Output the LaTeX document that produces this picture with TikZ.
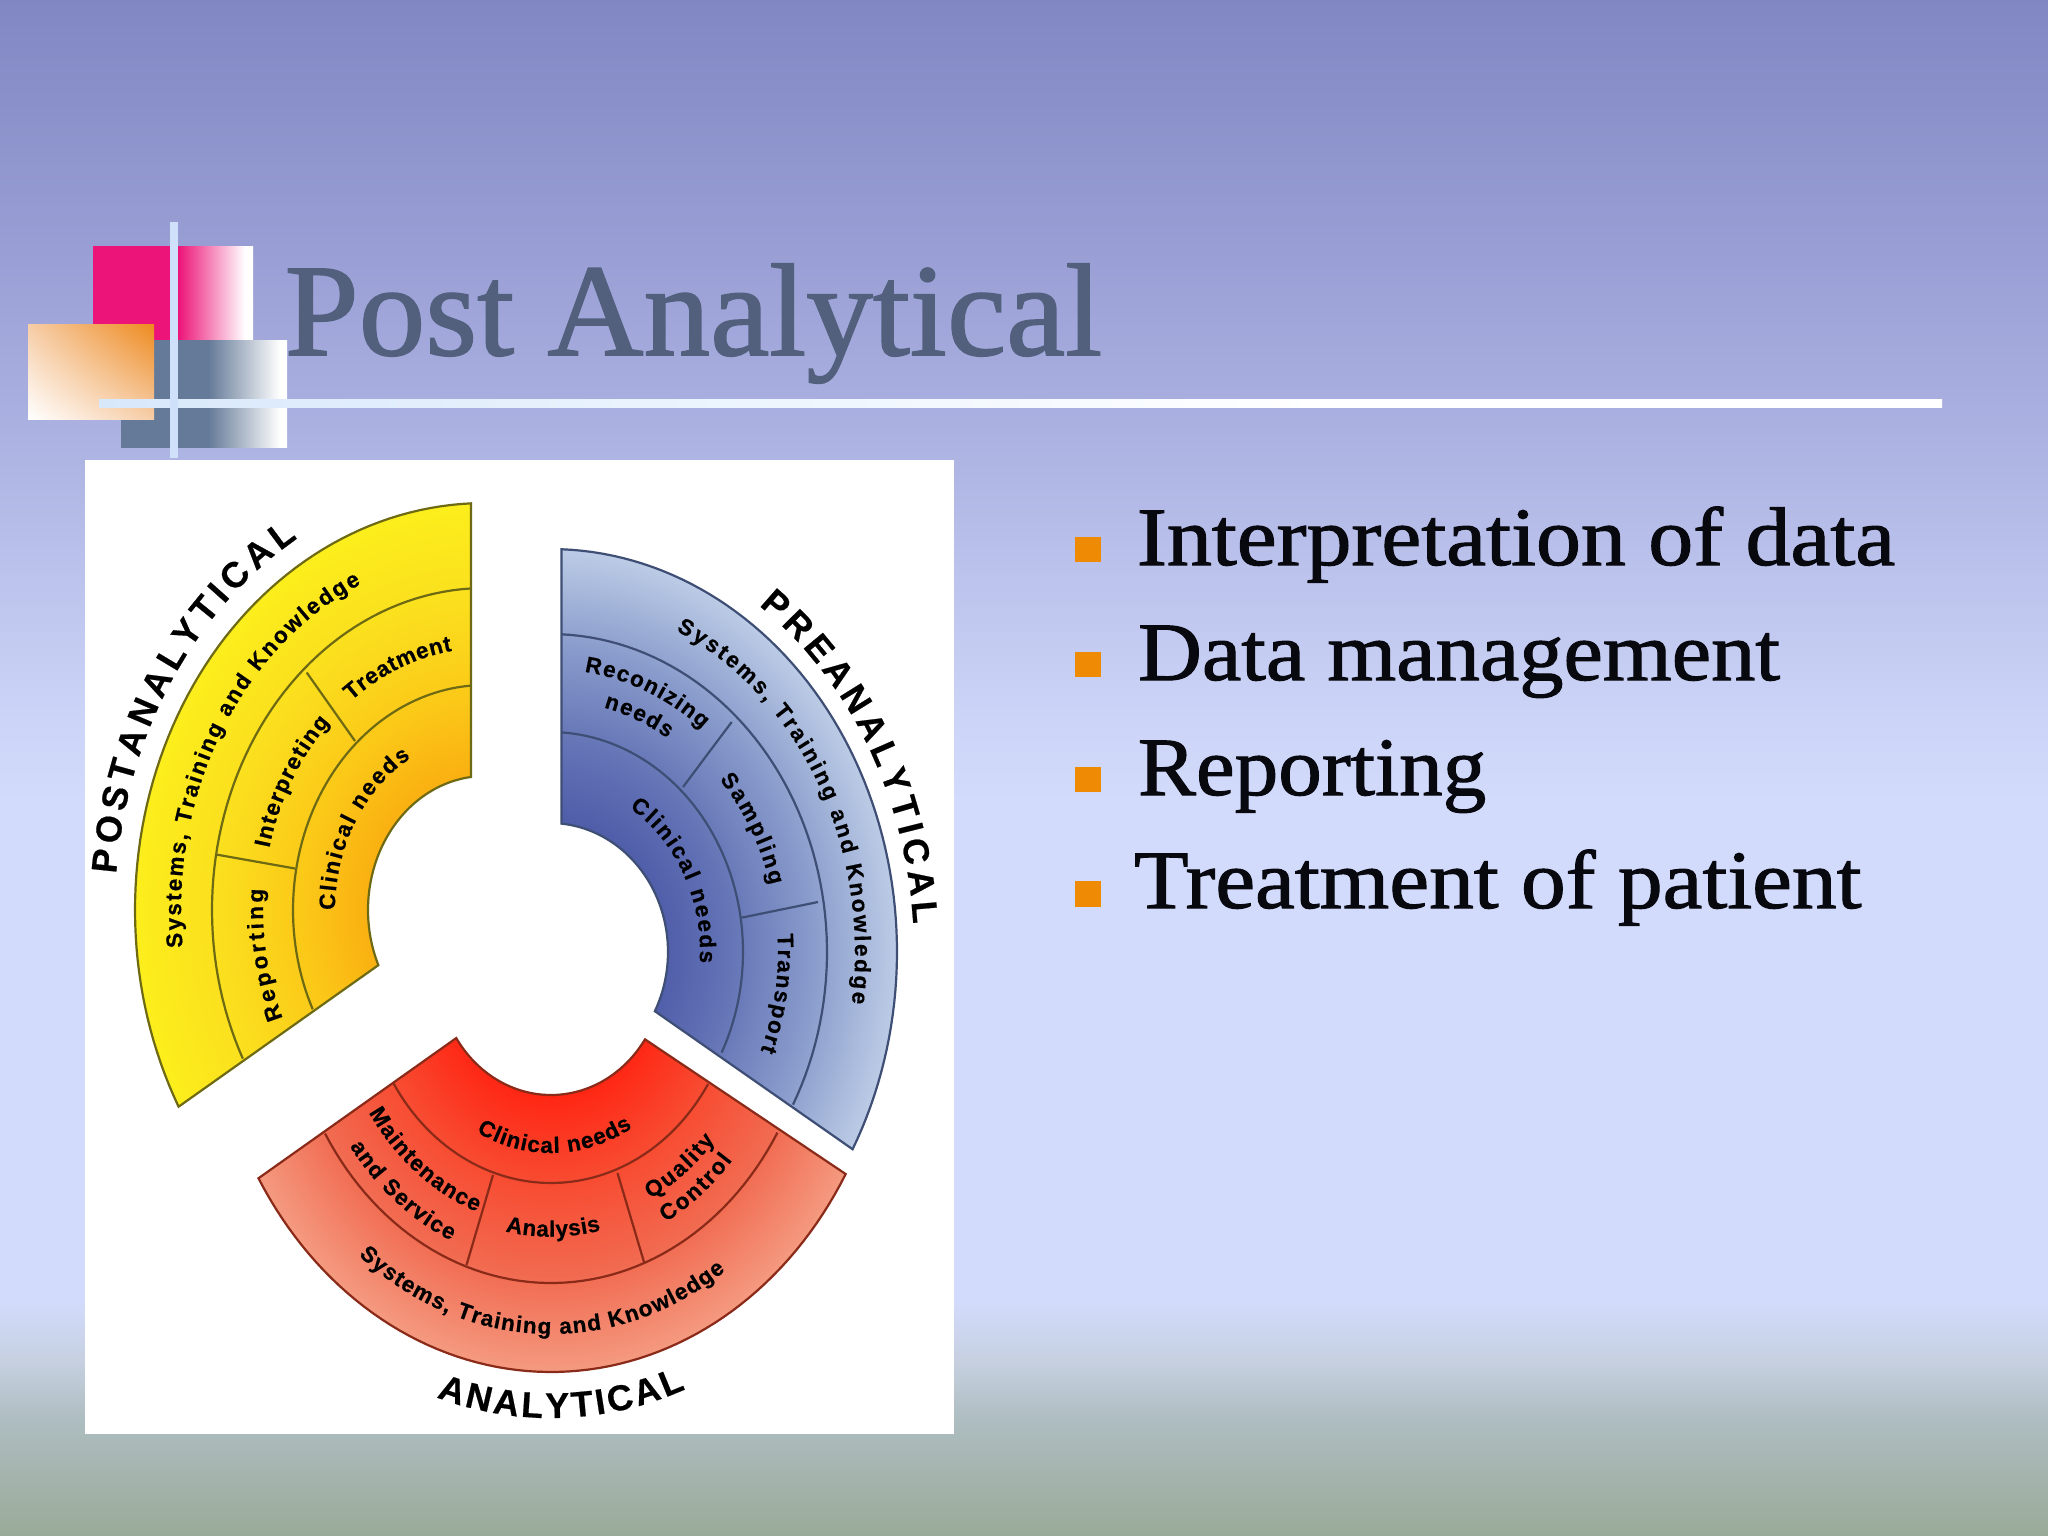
\documentclass[tikz,border=0pt]{standalone}
\usepackage{graphicx}
\usepackage{fontspec}
\setmainfont{Liberation Serif}[FakeBold=1.2]
\setsansfont{Liberation Sans}[BoldFeatures={FakeBold=0.5}]
\usetikzlibrary{decorations.text,shadings}

\definecolor{bgA}{HTML}{8087C3}
\definecolor{bgB}{HTML}{979DD3}
\definecolor{bgC}{HTML}{AAB0E0}
\definecolor{bgD}{HTML}{CAD2F6}
\definecolor{bgE}{HTML}{D3DBFC}
\definecolor{bgF}{HTML}{C6D0E0}
\definecolor{bgG}{HTML}{AEBDC0}
\definecolor{bgH}{HTML}{9AAA98}
\pgfdeclareverticalshading{bgv}{100bp}{color(0bp)=(bgH); color(25bp)=(bgH); color(28.78bp)=(bgG); color(30.7bp)=(bgF); color(32.68bp)=(bgE); color(48.96bp)=(bgE); color(52.2bp)=(bgD); color(61.3bp)=(bgC); color(67.5bp)=(bgB); color(75bp)=(bgA); color(100bp)=(bgA)}

\definecolor{yA}{HTML}{FAAC10}\definecolor{yB}{HTML}{FBC818}\definecolor{yC}{HTML}{FBDF1E}\definecolor{yD}{HTML}{FCEE1C}
\definecolor{bA}{HTML}{4D5AA8}\definecolor{bB}{HTML}{6474B6}\definecolor{bC}{HTML}{8A9CCC}\definecolor{bD}{HTML}{BCCCE6}
\definecolor{rA}{HTML}{FF2412}\definecolor{rB}{HTML}{F84A30}\definecolor{rC}{HTML}{F16A50}\definecolor{rD}{HTML}{F49A80}
\pgfdeclareradialshading{yelrad}{\pgfpointorigin}{color(0bp)=(yA); color(7.5bp)=(yA); color(13bp)=(yB); color(19bp)=(yC); color(25bp)=(yD); color(50bp)=(yD)}
\pgfdeclareradialshading{blurad}{\pgfpointorigin}{color(0bp)=(bA); color(7.5bp)=(bA); color(13bp)=(bB); color(19bp)=(bC); color(25bp)=(bD); color(50bp)=(bD)}
\pgfdeclareradialshading{redrad}{\pgfpointorigin}{color(0bp)=(rA); color(7.5bp)=(rA); color(13bp)=(rB); color(19bp)=(rC); color(25bp)=(rD); color(50bp)=(rD)}

\definecolor{pinkc}{HTML}{EC1478}
\definecolor{slatec}{HTML}{647A98}
\definecolor{orangec}{HTML}{EE8A1E}
\definecolor{orangel}{HTML}{F6CDA8}
\definecolor{barc}{HTML}{CFE0FA}
\definecolor{linec}{HTML}{D8E8FB}
\definecolor{titlec}{HTML}{52607E}
\definecolor{bodyc}{HTML}{08080F}
\definecolor{bulletc}{HTML}{EE8A04}
\definecolor{yline}{HTML}{6E6A14}
\definecolor{bline}{HTML}{3E4E74}
\definecolor{rline}{HTML}{8A2A18}
\pgfdeclarehorizontalshading{pinkh}{100bp}{color(0bp)=(pinkc); color(51.6bp)=(pinkc); color(72.5bp)=(white); color(100bp)=(white)}
\pgfdeclarehorizontalshading{slateh}{100bp}{color(0bp)=(slatec); color(51.2bp)=(slatec); color(72.9bp)=(white); color(100bp)=(white)}
\pgfdeclarehorizontalshading{lineh}{100bp}{color(0bp)=(linec); color(25bp)=(linec); color(58bp)=(white); color(100bp)=(white)}

\newcommand\lblfont{\fontsize{6.4}{7}\selectfont\sffamily\bfseries}
\newcommand\bigfont{\fontsize{10.2}{11}\selectfont\sffamily\bfseries}
\newcommand\fitw[2]{\resizebox{#1}{\height}{#2}}

% #1 command, #2-#3 outer angles, #4-#5 outer radii, #6-#7 inner angles, #8-#9 inner radii
\newcommand\sectorops[9]{#1 plot[domain=#2:#3,samples=70,variable=\t] ({\cx+#4*cos(\t)},{\cy+#5*sin(\t)}) -- plot[domain=#6:#7,samples=50,variable=\t] ({\cx+#8*cos(\t)},{\cy+#9*sin(\t)}) -- cycle;}
% one ring arc
\newcommand\ringarc[5]{\draw[#1] plot[domain=#2:#3,samples=60,variable=\t] ({\cx+#4*cos(\t)},{\cy+#5*sin(\t)});}
% label along an arc: font, start, end, rx, ry, text
\newcommand\arclabel[6]{\path[decorate,decoration={text along path,text align={fit to path},text={|#1|#6}}] plot[domain=#2:#3,samples=40,variable=\t] ({\cx+#4*cos(\t)},{\cy+#5*sin(\t)});}

\tikzset{
  ybord/.style={draw=yline,line width=0.022cm},
  bbord/.style={draw=bline,line width=0.022cm},
  rbord/.style={draw=rline,line width=0.022cm},
  bodytext/.style={anchor=base west,inner sep=0pt,outer sep=0pt,text=bodyc,font=\fontsize{23.6}{26}\selectfont},
  bulletbox/.style={fill=bulletc}
}

\begin{document}
\begin{tikzpicture}[x=0.01cm,y=-0.01cm]
\useasboundingbox (0,0) rectangle (2048,1536);
\shade[shading=bgv] (0,0) rectangle (2048,1536);

% logo
\shade[shading=pinkh] (93,246) rectangle (253,340);
\shade[shading=slateh] (121,340) rectangle (287,447);
\shade[upper right=orangec,upper left=orangel,lower right=orangel,lower left=white] (28,324) rectangle (154,419);
\shade[shading=lineh] (99,399) rectangle (1942,407);
\fill[barc] (170,222) rectangle (178,458);

% title
\node[anchor=base west,inner sep=0pt,text=titlec,font=\fontsize{37.4}{40}\selectfont] (title) at (284,355) {\fitw{8.17cm}{Post Analytical}};

% image panel
\fill[white] (85,460) rectangle (954,1434);

% YELLOW
\begin{scope}
\def\cx{485}\def\cy{910}
\begin{scope}
\sectorops{\clip}{267.7}{151.1}{350}{407}{155.7}{263.1}{117}{134}
\shade[shading=yelrad] (135,503) rectangle (835,1317);
\end{scope}
\ringarc{ybord}{267.1}{152.5}{273}{322}
\ringarc{ybord}{265.8}{153.8}{192}{225}
\sectorops{\draw[ybord]}{267.7}{151.1}{350}{407}{155.7}{263.1}{117}{134}
\draw[ybord] (216.7,854.6) -- (295,868.5);
\draw[ybord] (306.7,672.5) -- (355,741);
\arclabel{\bigfont}{184.8}{239.6}{370}{431}{POSTANALYTICAL}
\arclabel{\lblfont}{174}{246}{304}{357}{Systems, Training and Knowledge}
\arclabel{\lblfont}{155.6}{184.6}{222}{262}{Reporting}
\arclabel{\lblfont}{193.7}{225.7}{222}{262}{Interpreting}
\arclabel{\lblfont}{233}{261.5}{222}{262}{Treatment}
\arclabel{\lblfont}{180}{240.4}{150}{175}{Clinical needs}
\end{scope}

% BLUE
\begin{scope}
\def\cx{550}\def\cy{952}
\begin{scope}
\sectorops{\clip}{271.9}{389.3}{347}{403}{387.3}{275.6}{118}{129}
\shade[shading=blurad] (203,549) rectangle (897,1355);
\end{scope}
\ringarc{bbord}{272.4}{388.7}{277}{318}
\ringarc{bbord}{273.5}{387.2}{193}{220}
\sectorops{\draw[bbord]}{271.9}{389.3}{347}{403}{387.3}{275.6}{118}{129}
\draw[bbord] (731.7,722) -- (683,787);
\draw[bbord] (818,902) -- (740,918);
\arclabel{\bigfont}{305}{356.2}{364}{423}{PREANALYTICAL}
\arclabel{\lblfont}{294.4}{368.4}{305}{353}{Systems, Training and Knowledge}
\arclabel{\lblfont}{278}{308}{247}{283}{Reconizing}
\arclabel{\lblfont}{284}{302}{222}{252}{needs}
\arclabel{\lblfont}{318}{345}{228}{258}{Sampling}
\arclabel{\lblfont}{356}{382.5}{228}{258}{Transport}
\arclabel{\lblfont}{302}{363.7}{150}{170}{Clinical needs}
\end{scope}

% RED
\begin{scope}
\def\cx{551}\def\cy{970}
\begin{scope}
\sectorops{\clip}{148.8}{30.5}{342}{402}{33.7}{147}{113}{125}
\shade[shading=redrad] (209,568) rectangle (893,1372);
\end{scope}
\ringarc{rbord}{148.5}{31.3}{265}{313}
\ringarc{rbord}{148}{32.4}{186}{213}
\sectorops{\draw[rbord]}{148.8}{30.5}{342}{402}{33.7}{147}{113}{125}
\draw[rbord] (493,1175) -- (466.5,1265);
\draw[rbord] (617.5,1173) -- (644,1262);
\arclabel{\bigfont}{107.5}{69.3}{381}{448}{ANALYTICAL}
\arclabel{\lblfont}{128.4}{55.7}{310}{364}{Systems, Training and Knowledge}
\arclabel{\lblfont}{117.8}{59.4}{160}{183}{Clinical needs}
\arclabel{\lblfont}{101.5}{77.4}{229}{266.7}{Analysis}
\arclabel{\lblfont}{146.3}{109.8}{219}{257}{Maintenance}
\arclabel{\lblfont}{143.3}{113.5}{251}{295}{and Service}
\arclabel{\lblfont}{62.9}{41.5}{219}{257}{Quality}
\arclabel{\lblfont}{61.8}{41.7}{243}{286}{Control}
\end{scope}

% bullets
\fill[bulletbox] (1075,537) rectangle (1100.5,562);
\fill[bulletbox] (1075,652) rectangle (1100.5,677);
\fill[bulletbox] (1075,767) rectangle (1100.5,792);
\fill[bulletbox] (1075,881) rectangle (1100.5,907);
\node[bodytext] (item1) at (1137,565) {\fitw{7.576cm}{Interpretation of data}};
\node[bodytext] (item2) at (1138,680) {\fitw{6.415cm}{Data management}};
\node[bodytext] (item3) at (1138,795) {\fitw{3.48cm}{Reporting}};
\node[bodytext] (item4) at (1134,908) {\fitw{7.27cm}{Treatment of patient}};
\end{tikzpicture}
\end{document}
